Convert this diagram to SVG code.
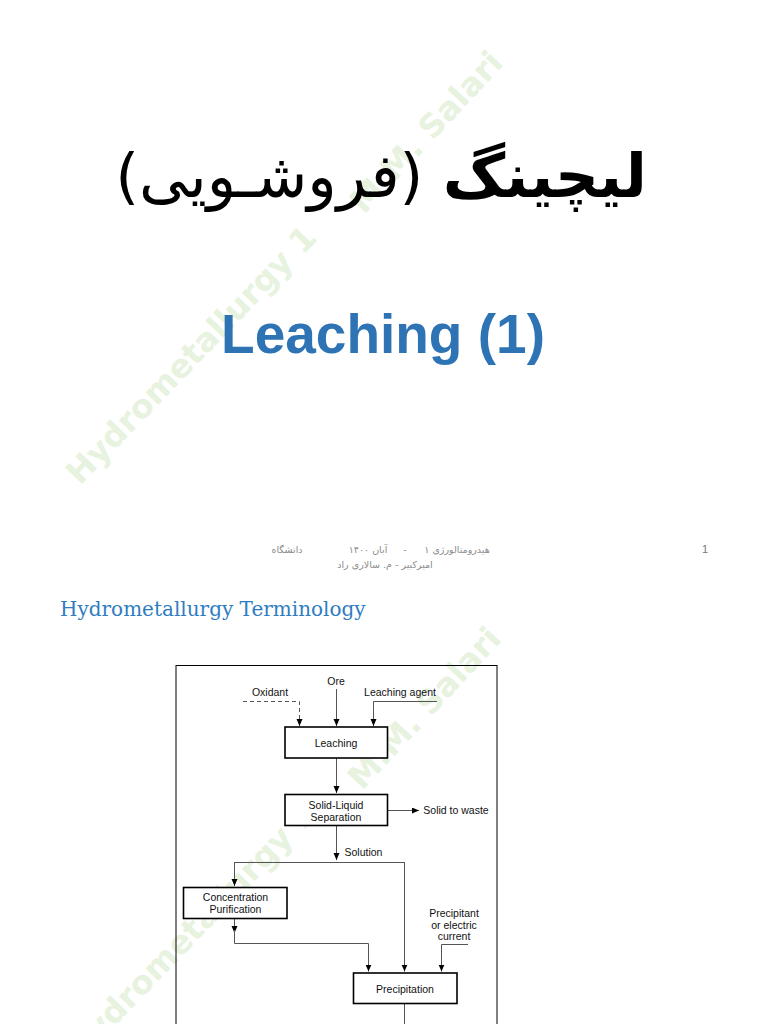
<svg xmlns="http://www.w3.org/2000/svg" width="768" height="1024" viewBox="0 0 768 1024">
<style>
.wm{font-family:"DejaVu Sans",sans-serif;font-weight:bold;font-size:32.5px;fill:#e7f2df}
.lbl{font-family:"Liberation Sans",Arial,sans-serif;font-size:10.5px;fill:#111;text-anchor:middle}
.box{fill:#fff;stroke:#000;stroke-width:1.6}
.ln{fill:none;stroke:#555;stroke-width:1}
.fa{fill:none;stroke:#555;stroke-width:1;marker-end:url(#ah)}
.fa2{fill:none;stroke:#555;stroke-width:1;stroke-dasharray:4,3;marker-end:url(#ah)}
.ft{font-family:"DejaVu Sans",sans-serif;font-size:9.5px;fill:#8a8a8a;text-anchor:middle}
</style>
<defs>
<marker id="ah" markerUnits="userSpaceOnUse" markerWidth="8" markerHeight="8" refX="7" refY="3" orient="auto">
<path d="M0,0 L7,3 L0,6 z" fill="#000"/>
</marker>
</defs>
<rect width="768" height="1024" fill="#fff"/>
<g id="watermark1">
<text class="wm" transform="translate(80,486) rotate(-46)">Hydrometallurgy 1</text>
<text class="wm" transform="translate(364,215) rotate(-47)">M.M. Salari</text>
</g>
<g id="watermark2">
<text class="wm" transform="translate(80,1062) rotate(-46)">Hydrometallurgy 1</text>
<text class="wm" transform="translate(362,791) rotate(-47)">M.M. Salari</text>
</g>
<g id="title-fa">
<text x="381" y="197" direction="rtl" text-anchor="middle" font-family="DejaVu Sans, sans-serif" font-size="61" fill="#000"><tspan font-weight="bold">لیچینگ</tspan> (فروشـویی)</text>
</g>
<g id="title-en">
<text x="383" y="353" text-anchor="middle" font-family="Liberation Sans, Arial, sans-serif" font-weight="bold" font-size="55" fill="#2e74b5">Leaching (1)</text>
</g>
<g id="footer">
<text class="ft" x="457" y="553" direction="rtl">هیدرومتالورژی ۱</text>
<text class="ft" x="405" y="553">-</text>
<text class="ft" x="368" y="553" direction="rtl">آبان ۱۴۰۰</text>
<text class="ft" x="287" y="553" direction="rtl">دانشگاه</text>
<text class="ft" x="385" y="568" direction="rtl">امیرکبیر - م. سالاری راد</text>
<text x="705" y="553" font-family="Liberation Sans, Arial, sans-serif" font-size="11" fill="#777" text-anchor="middle">1</text>
</g>
<g id="heading">
<text x="60" y="616" font-family="DejaVu Serif, serif" font-size="20" fill="#2f7dc1">Hydrometallurgy Terminology</text>
</g>
<g id="frame">
<rect x="176" y="665.5" width="321" height="370" fill="none" stroke="#000" stroke-width="1"/>
</g>
<g id="connectors">
<path class="fa2" d="M243,701.5 H299.5 V726"/>
<path class="fa" d="M336.5,689 V726"/>
<path class="fa" d="M437,701.5 H373.5 V726"/>
<path class="fa" d="M336.5,758 V793"/>
<path class="fa" d="M388,810.5 H419"/>
<path class="fa" d="M336.5,826 V860"/>
<path class="ln" d="M234.5,862.5 H404.5"/>
<path class="fa" d="M234.5,862 V886"/>
<path class="fa" d="M234.5,919 V933"/>
<path class="fa" d="M234.5,930 V943.5 H368.5 V971.5"/>
<path class="fa" d="M404.5,862 V971.5"/>
<path class="fa" d="M468,944.5 H441.5 V971.5"/>
<path class="ln" d="M404.5,1004 V1024"/>
</g>
<g id="inputs">
<text class="lbl" x="336" y="685">Ore</text>
<text class="lbl" x="270" y="696">Oxidant</text>
<text class="lbl" x="400" y="696">Leaching agent</text>
</g>
<g id="leaching">
<rect class="box" x="285" y="727" width="102.5" height="31"/>
<text class="lbl" x="336" y="747">Leaching</text>
</g>
<g id="solid-liquid">
<rect class="box" x="285" y="794.5" width="102.5" height="31"/>
<text class="lbl" x="336" y="809">Solid-Liquid</text>
<text class="lbl" x="336" y="820.5">Separation</text>
</g>
<g id="waste">
<text class="lbl" x="456" y="814">Solid to waste</text>
</g>
<g id="solution">
<text class="lbl" x="363.5" y="856">Solution</text>
</g>
<g id="concentration">
<rect class="box" x="183.5" y="887.5" width="103.5" height="31"/>
<text class="lbl" x="235.5" y="901">Concentration</text>
<text class="lbl" x="235.5" y="912.5">Purification</text>
</g>
<g id="precipitant">
<text class="lbl" x="454" y="917">Precipitant</text>
<text class="lbl" x="454" y="929">or electric</text>
<text class="lbl" x="454" y="940">current</text>
</g>
<g id="precipitation">
<rect class="box" x="353.5" y="973" width="103.5" height="30.5"/>
<text class="lbl" x="405" y="992.5">Precipitation</text>
</g>
</svg>
